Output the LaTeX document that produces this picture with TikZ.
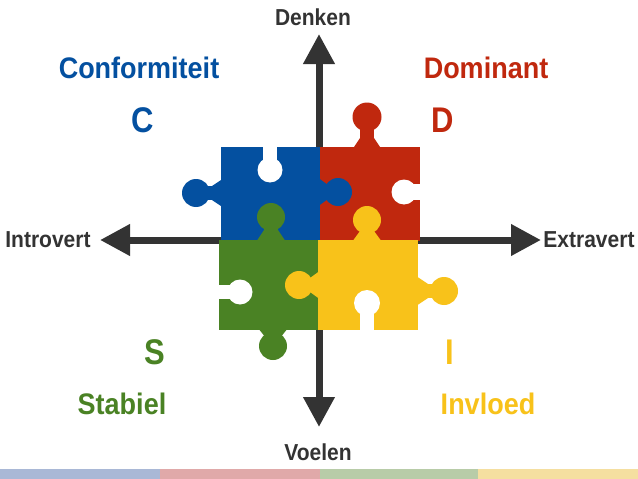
\documentclass[tikz,border=0pt]{standalone}
\usepackage{fontspec}
\setmainfont{Liberation Sans}
\usetikzlibrary{arrows.meta}
\definecolor{pb}{HTML}{0450A0}
\definecolor{pr}{HTML}{C0280E}
\definecolor{pg}{HTML}{4A8224}
\definecolor{py}{HTML}{F8C21A}
\definecolor{ax}{HTML}{333333}
\definecolor{b1}{HTML}{A9B8D6}
\definecolor{b2}{HTML}{E0A9A9}
\definecolor{b3}{HTML}{B8CCA8}
\definecolor{b4}{HTML}{F5DFA0}
\tikzset{axis/.style={draw=ax,line width=7pt,-{Triangle[length=30pt,width=30pt]}},
 lab/.style={font=\bfseries\fontsize{21}{21}\selectfont,text=ax,inner sep=0pt,yscale=1.1},
 big/.style={font=\bfseries\fontsize{27}{27}\selectfont,inner sep=0pt,yscale=1.1},
 huge/.style={font=\bfseries\fontsize{31}{31}\selectfont,inner sep=0pt,yscale=1.15}}
\begin{document}
\begin{tikzpicture}[x=1pt,y=-1pt]
\useasboundingbox (0,0) rectangle (638,479);
\fill[white] (0,0) rectangle (638,479);
\fill[b1] (0,469) rectangle (160,479);
\fill[b2] (160,469) rectangle (320,479);
\fill[b3] (320,469) rectangle (478,479);
\fill[b4] (478,469) rectangle (638,479);
\coordinate (c) at (319,240);
\coordinate (n) at (319,34);
\coordinate (s) at (319,427);
\coordinate (w) at (100,240);
\coordinate (e) at (541,240);
\draw[axis] (c) -- (n);
\draw[axis] (c) -- (s);
\draw[axis] (c) -- (w);
\draw[axis] (c) -- (e);
% red
\fill[pr] (318,147) rectangle (420,241);
\fill[pr] (367,117) circle (14.5); \fill[pr] (360,120) rectangle (374,150);
\fill[pr] (352,150) -- (360,138) -- (374,138) -- (382,150) -- cycle;
\fill[white] (404,192) circle (12.5); \fill[white] (410,184) rectangle (421,200);
% blue
\fill[pb] (221,147) rectangle (320,241);
\fill[pb] (196,193) circle (14); \fill[pb] (198,186) rectangle (224,200);
\fill[pb] (224,178) -- (212,186) -- (212,200) -- (224,208) -- cycle;
\fill[pb] (338,192) circle (14); \fill[pb] (315,185) rectangle (335,199);
\fill[pb] (317,177) -- (328,185) -- (328,199) -- (317,207) -- cycle;
\fill[white] (270,170) circle (12.5); \fill[white] (263,146) rectangle (277,165);
% green
\fill[pg] (219,240) rectangle (320,330);
\fill[pg] (271,217) circle (14); \fill[pg] (264,218) rectangle (278,244);
\fill[pg] (256,242) -- (264,230) -- (278,230) -- (286,242) -- cycle;
\fill[pg] (273,346) circle (14); \fill[pg] (266,325) rectangle (280,344);
\fill[pg] (258,328) -- (266,338) -- (280,338) -- (288,328) -- cycle;
\fill[white] (240,292) circle (12.5); \fill[white] (216,285) rectangle (234,299);
% yellow
\fill[py] (318,240) rectangle (418,330);
\fill[py] (367,220) circle (14); \fill[py] (360,220) rectangle (374,244);
\fill[py] (352,242) -- (360,231) -- (374,231) -- (382,242) -- cycle;
\fill[py] (299,285) circle (14); \fill[py] (300,278) rectangle (322,292);
\fill[py] (321,270) -- (310,278) -- (310,292) -- (321,300) -- cycle;
\fill[py] (444,291) circle (14); \fill[py] (414,284) rectangle (442,298);
\fill[py] (416,276) -- (428,284) -- (428,298) -- (416,306) -- cycle;
\fill[white] (367,303) circle (13); \fill[white] (360,310) rectangle (374,332);
% labels
\node[lab] (l1) at (313,17) {Denken};
\node[lab] (l2) at (318,452) {Voelen};
\node[lab] (l3) at (48,240) {Introvert};
\node[lab] (l4) at (589,240) {Extravert};
\node[big,text=pb] (t1) at (139,68) {Conformiteit};
\node[big,text=pr] (t2) at (486,68) {Dominant};
\node[big,text=pg] (t3) at (122,404) {Stabiel};
\node[big,text=py] (t4) at (488,404) {Invloed};
\node[huge,text=pb] (q1) at (143,120) {C};
\node[huge,text=pr] (q2) at (443,120) {D};
\node[huge,text=pg] (q3) at (155,352) {S};
\node[huge,text=py] (q4) at (450,352) {I};
\end{tikzpicture}
\end{document}
